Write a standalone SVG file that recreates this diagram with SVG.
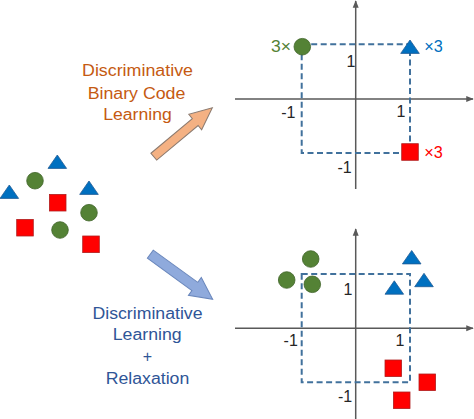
<svg xmlns="http://www.w3.org/2000/svg" width="474" height="419" viewBox="0 0 474 419">
<defs>
<style>
text{font-family:"Liberation Sans",Arial,sans-serif;font-size:16px}
.lbl{fill:#262626;text-anchor:middle}
.orange{fill:#C55A11;text-anchor:middle}
.blue{fill:#2F5597;text-anchor:middle}
.axis{stroke:#595959;stroke-width:1.5;fill:none;marker-end:url(#ah)}
.dash{stroke:#41719C;stroke-width:2;stroke-dasharray:6 3.5;fill:none}
.c{fill:#548235;stroke:#3F6328;stroke-width:0.8}
.t{fill:#0070C0;stroke:#1F5A94;stroke-width:0.8}
.s{fill:#FF0000;stroke:#B02020;stroke-width:0.8}
</style>
<marker id="ah" viewBox="0 0 10 10" refX="9" refY="5" markerWidth="5" markerHeight="5" orient="auto" markerUnits="strokeWidth">
<path d="M0,1 L10,5 L0,9 Z" fill="#595959"/>
</marker>
<circle id="cir" r="8.3"/>
<path id="tri" d="M0,-6.7 L9.3,6.7 L-9.3,6.7 Z"/>
<rect id="sq" x="-8.3" y="-8.3" width="16.6" height="16.6"/>
</defs>
<rect width="474" height="419" fill="#ffffff"/>

<g id="connectors">
<path id="arrow-binary" d="M0,-4.5 H54 V-10 L76.3,0 L54,10 V4.5 H0 Z" transform="translate(153.8,156.7) rotate(-39.9)" fill="#F4B183" stroke="#8C7B70" stroke-width="1"/>
<path id="arrow-relax" d="M0,-5 H55 V-11 L77,0 L55,11 V5 H0 Z" transform="translate(150.3,254.2) rotate(35.9)" fill="#8FAADC" stroke="#6A87BC" stroke-width="1"/>
</g>

<g id="label-binary" style="font-size:16.3px">
<text class="orange" x="137.5" y="76" textLength="111" lengthAdjust="spacingAndGlyphs">Discriminative</text>
<text class="orange" x="136.5" y="98.5" textLength="97.7" lengthAdjust="spacingAndGlyphs">Binary Code</text>
<text class="orange" x="137.5" y="120.3" textLength="68.5" lengthAdjust="spacingAndGlyphs">Learning</text>
</g>

<g id="label-relax" style="font-size:16.5px">
<text class="blue" x="147.5" y="319" textLength="110" lengthAdjust="spacingAndGlyphs">Discriminative</text>
<text class="blue" x="147.2" y="339.5" textLength="69" lengthAdjust="spacingAndGlyphs">Learning</text>
<text class="blue" x="147.5" y="362">+</text>
<text class="blue" x="147.5" y="384.3" textLength="83.6" lengthAdjust="spacingAndGlyphs">Relaxation</text>
</g>

<g id="input-points">
<use href="#tri" class="t" x="57.3" y="161.7"/>
<use href="#tri" class="t" x="9.3" y="191.7"/>
<use href="#tri" class="t" x="89" y="187.7"/>
<use href="#cir" class="c" x="35" y="180.7"/>
<use href="#cir" class="c" x="89" y="212.7"/>
<use href="#cir" class="c" x="60" y="230"/>
<use href="#sq" class="s" x="57.7" y="202.7"/>
<use href="#sq" class="s" x="25" y="227.7"/>
<use href="#sq" class="s" x="91" y="244.3"/>
</g>

<g id="plot-binary">
<line class="axis" x1="235" y1="99" x2="473" y2="99"/>
<line class="axis" x1="355.7" y1="189" x2="355.7" y2="1"/>
<rect class="dash" x="301.7" y="44.3" width="108.3" height="108.7"/>
<text class="lbl" x="351" y="66.7">1</text>
<text class="lbl" x="288.3" y="118.3">-1</text>
<text class="lbl" x="401" y="116.7">1</text>
<text class="lbl" x="344.5" y="172.7">-1</text>
<use href="#cir" class="c" x="302.3" y="46.7"/>
<use href="#tri" class="t" x="410" y="46.7"/>
<use href="#sq" class="s" x="410" y="152"/>
<text x="281" y="52" fill="#548235" text-anchor="middle" textLength="20" lengthAdjust="spacingAndGlyphs">3×</text>
<text x="433.5" y="52" fill="#0070C0" text-anchor="middle" textLength="18.5" lengthAdjust="spacingAndGlyphs">×3</text>
<text x="433.5" y="158.3" fill="#FF0000" text-anchor="middle" textLength="18.5" lengthAdjust="spacingAndGlyphs">×3</text>
</g>

<g id="plot-relax">
<line class="axis" x1="235" y1="328.3" x2="473" y2="328.3"/>
<line class="axis" x1="355.7" y1="419" x2="355.7" y2="229"/>
<rect class="dash" x="301.7" y="274" width="108.3" height="108.3"/>
<text class="lbl" x="348" y="295">1</text>
<text class="lbl" x="290.7" y="346">-1</text>
<text class="lbl" x="400" y="346">1</text>
<text class="lbl" x="345" y="402">-1</text>
<use href="#cir" class="c" x="310.7" y="259"/>
<use href="#cir" class="c" x="286.7" y="280"/>
<use href="#cir" class="c" x="312.3" y="284.3"/>
<use href="#tri" class="t" x="411.7" y="257.2"/>
<use href="#tri" class="t" x="424" y="280"/>
<use href="#tri" class="t" x="394.3" y="287.5"/>
<use href="#sq" class="s" x="393.3" y="368.3"/>
<use href="#sq" class="s" x="427.3" y="382.3"/>
<use href="#sq" class="s" x="401.7" y="400.3"/>
</g>
</svg>
